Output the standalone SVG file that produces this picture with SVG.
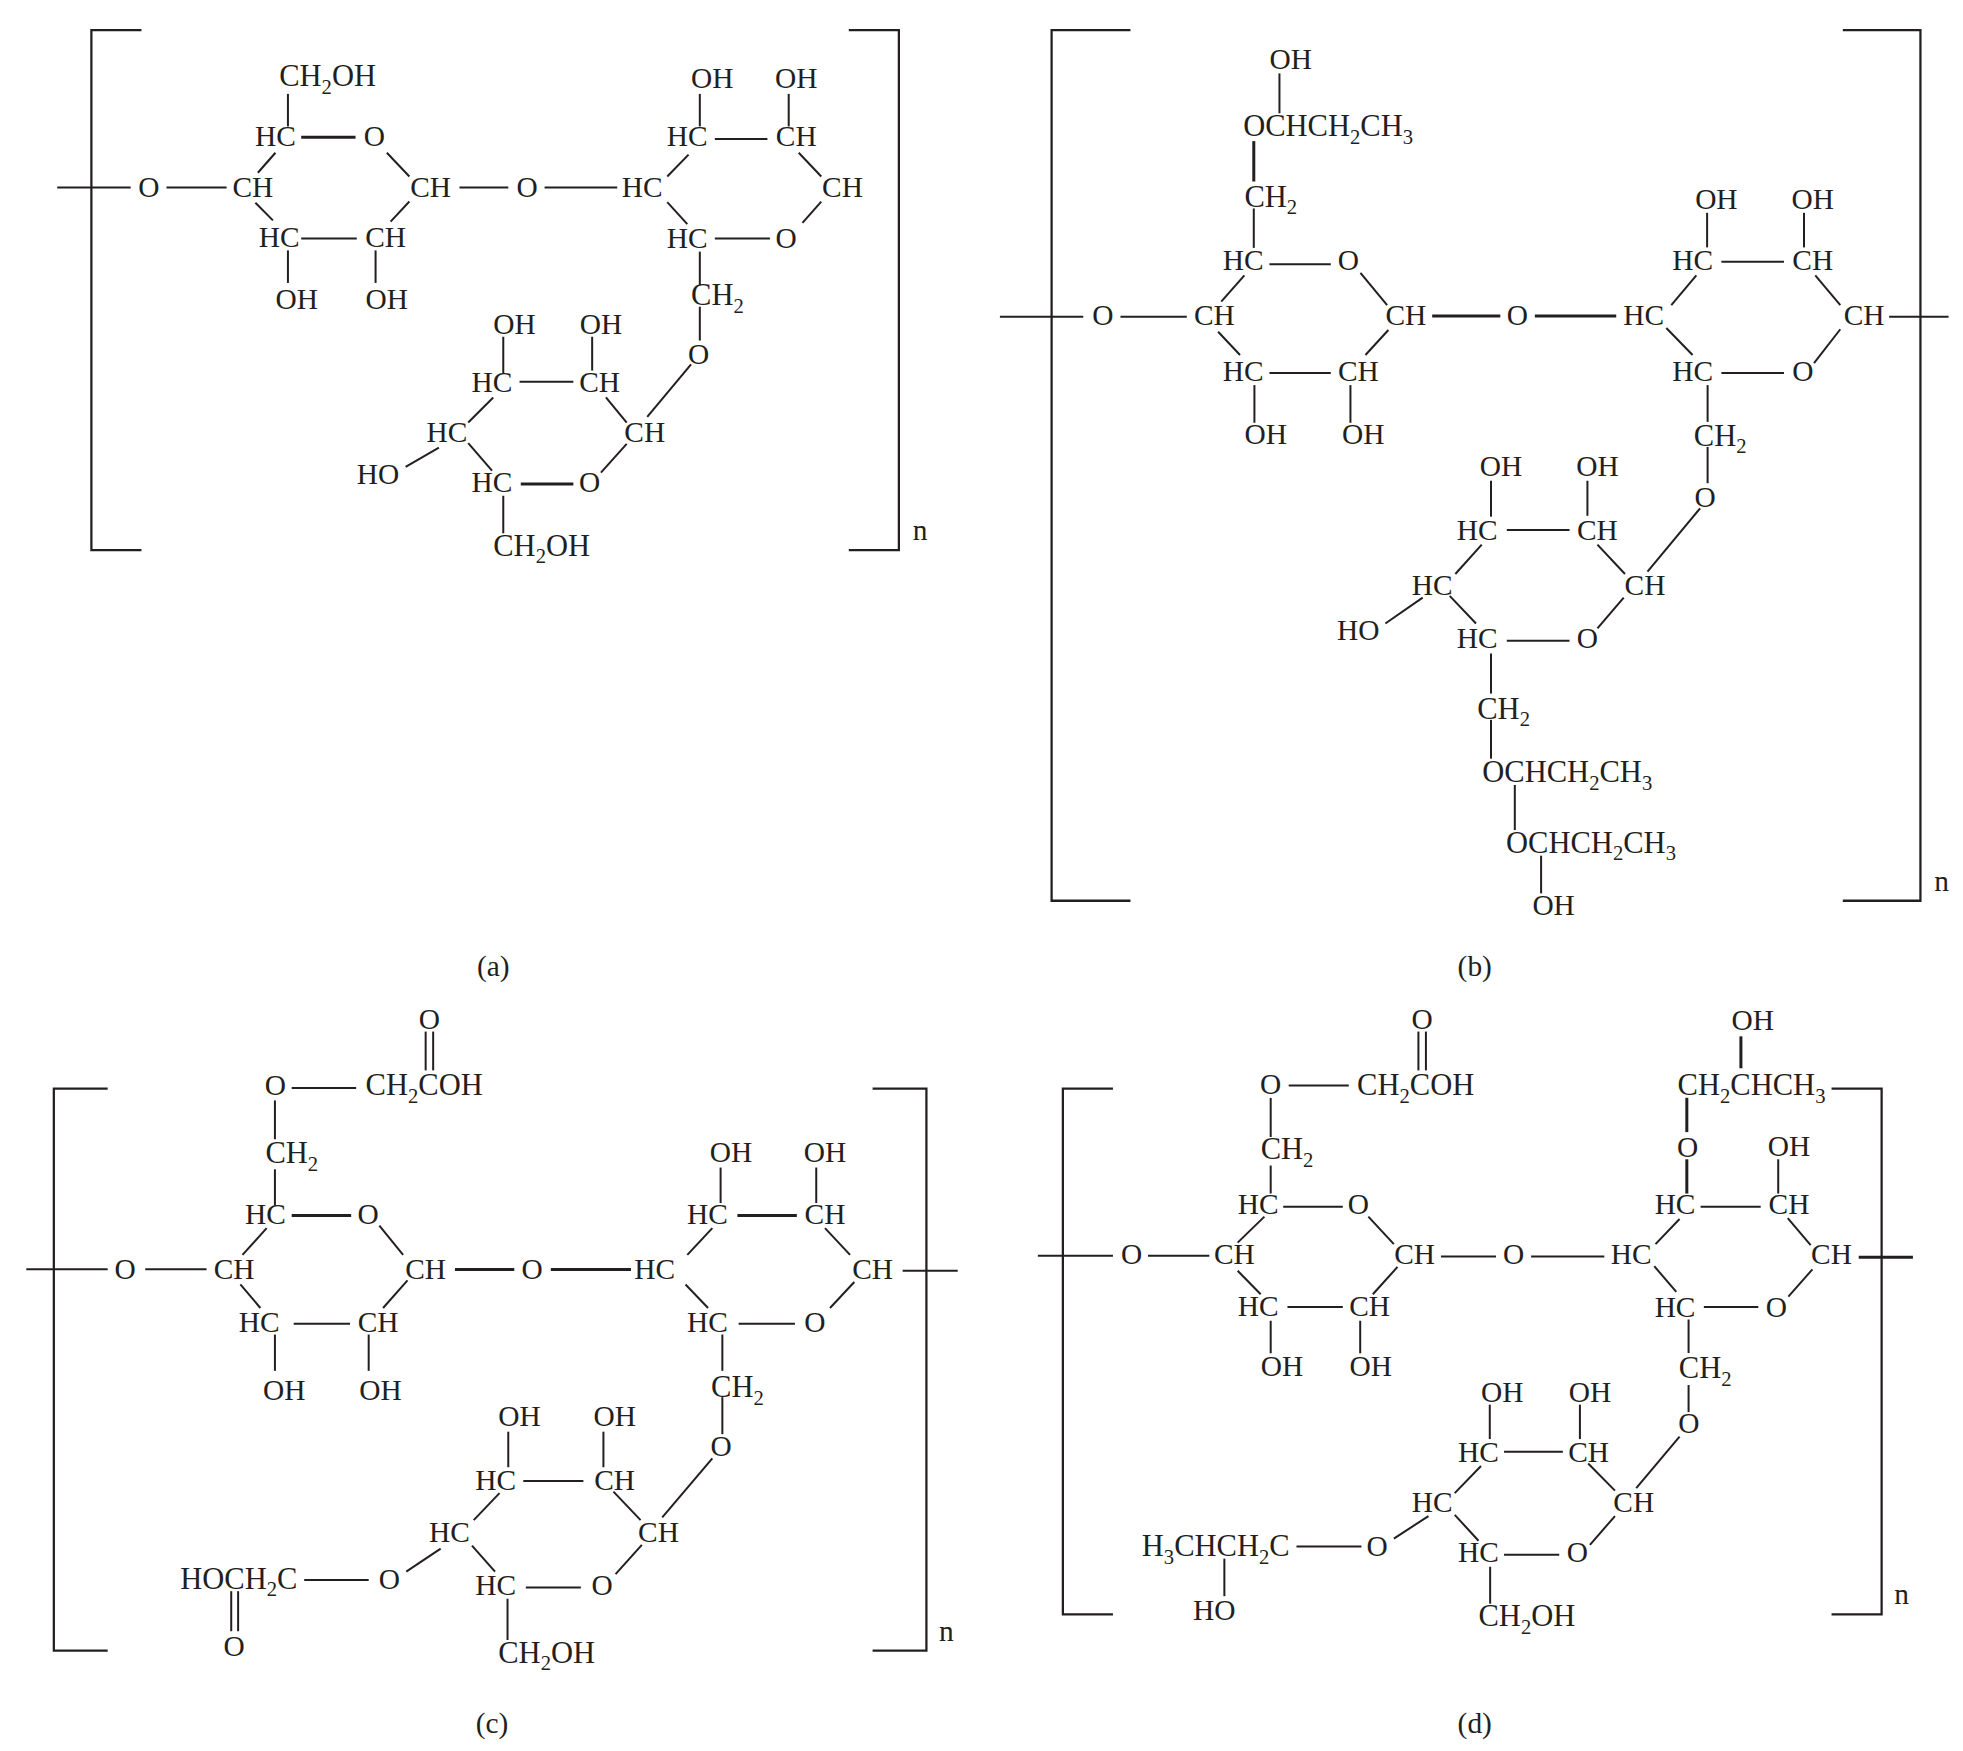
<svg xmlns="http://www.w3.org/2000/svg" width="1963" height="1751" viewBox="0 0 1963 1751">
<style>
text{font-family:"Liberation Serif","Times New Roman",serif;font-size:23.5px;fill:#231f20;text-anchor:middle}
text.f{text-anchor:start;font-size:24.4px}
.s{font-size:16.5px}
path{fill:none;stroke:#231f20;stroke-width:1.6}
path.t{stroke-width:2.4}
.br path{stroke-width:1.8}
</style>
<rect width="1963" height="1751" fill="#fff"/>
<g transform="scale(1.25191)">
<g id="connectors">
<g id="brackets" class="br">
<path d="M113 24H73V439.5H113"/><path d="M678 24H718V439.5H678"/>
<path d="M903 24H840V719.5H903"/><path d="M1472 24H1534V719.5H1472"/>
<path d="M86 869.5H43V1318.5H86"/><path d="M697 869.5H740V1318.5H697"/>
<path d="M889 869.5H849V1289.5H889"/><path d="M1463 869.5H1503V1289.5H1463"/>
</g>
<g id="bonds-a">
<path d="M45.7 149.8H104.4"/><path d="M133 149.8H181"/><path d="M230 75V101"/>
<path class="t" d="M240.6 109.6H284"/><path d="M220 122L206 138"/><path d="M309 122L327 141"/>
<path d="M204 162L218 176"/><path d="M327 161L312 177"/><path d="M240.6 190.6H285"/>
<path d="M230 200V226"/><path d="M300 200V226"/><path d="M367 149.8H406"/><path d="M435 149.8H493"/>
<path d="M533 141L550 123.5"/><path d="M571 111H613"/><path d="M559 75V101"/><path d="M630 75V101"/>
<path d="M638 122L656 141"/><path d="M656 161L641 178"/><path d="M533 161.5L549 179"/>
<path d="M571 190.6H615"/><path d="M559 201V228"/><path d="M559 245V272"/><path d="M552 291L517 333"/>
<path d="M402 269V298"/><path d="M473 269V296"/><path d="M415 305H458"/>
<path d="M394 317.5L374 337.5"/><path d="M484 317.5L500.6 337.5"/><path d="M500.6 354.6L480 377.5"/>
<path d="M374 354L393 376"/><path class="t" d="M416 386.6H458"/><path d="M350.6 357.5L324 373"/><path d="M402 396V426"/>
</g>
<g id="bonds-b">
<path d="M1022 58.6V90.5"/><path class="t" d="M1001.5 112.7V145"/><path d="M1001.5 166.5V198"/>
<path d="M1014 211H1063"/><path d="M798.7 253H865.3"/><path d="M895 253H948"/>
<path d="M994 220L975.5 241"/><path d="M1086.7 218L1108 243.7"/><path d="M973 265L990.5 283.6"/>
<path d="M1109 263.6L1090.7 283.6"/><path d="M1014 298H1063"/><path d="M1002 307.6V337.7"/><path d="M1078.7 307.6V337.7"/>
<path class="t" d="M1144 252.5H1198.4"/><path class="t" d="M1226 252.5H1291"/><path d="M1335 243.7L1355 220"/>
<path d="M1375 209H1425"/><path d="M1363.6 170V197.6"/><path d="M1441 170V197.6"/>
<path d="M1450 220L1470 243.7"/><path d="M1470 263L1449 290"/><path d="M1331 262L1352 283.6"/>
<path d="M1375 298H1425"/><path d="M1364 307.6V337"/><path d="M1364 357V386"/><path d="M1509 253H1556.5"/>
<path d="M1358 406L1316 456.6"/><path d="M1276 435L1298 458.5"/><path d="M1297 477.4L1276 502"/>
<path d="M1183.6 435L1162.5 458.5"/><path d="M1158 476L1179 498"/><path d="M1136.4 477.4L1106.6 498"/>
<path d="M1203.6 423.4H1253.7"/><path d="M1203.6 511.8H1253.7"/><path d="M1191 522V554"/><path d="M1191 575V606"/>
<path d="M1210 627V663"/><path d="M1231 683.5V713.6"/><path d="M1191 384V412.7"/><path d="M1268 384V412"/>
</g>
<g id="bonds-c">
<path d="M340 824V855"/><path d="M346 824V855"/><path d="M233 869H284.5"/><path d="M219.6 879V910"/><path d="M219.6 934V963"/>
<path class="t" d="M233 971H280.5"/><path d="M21 1013.8H86"/><path d="M116 1013.8H165"/>
<path d="M213 981L193.7 1002.4"/><path d="M303 979L322 1002.4"/><path d="M192 1026L208 1044.8"/>
<path d="M325.5 1022.8L306 1044.8"/><path d="M234.6 1057.3H279.6"/><path d="M219.6 1066V1095"/><path d="M294.5 1066V1095"/>
<path class="t" d="M363.4 1014H410.8"/><path class="t" d="M440 1014H504"/><path d="M549 1002.4L569 981"/>
<path class="t" d="M589 971H636.5"/><path d="M575.6 932.6V961"/><path d="M652 932.6V961"/>
<path d="M659 981L679 1002.4"/><path d="M682.4 1024L663 1044.8"/><path d="M547.6 1026L565.6 1044.8"/>
<path d="M590 1057.3H635"/><path d="M577 1066V1095"/><path d="M577 1116V1145.6"/><path d="M721 1015H765"/>
<path d="M569 1165L529 1212"/><path d="M406 1143.6V1172"/><path d="M482 1143.6V1172"/><path d="M418 1183H466"/>
<path d="M399 1192.7L378.4 1214.2"/><path d="M490 1191.5L511.7 1214.2"/><path d="M512.7 1234L491.7 1257.4"/>
<path d="M377 1234.6L395.4 1255.4"/><path d="M420 1268H464"/><path d="M352 1237L324.5 1255.4"/>
<path d="M243 1262H294.5"/><path d="M405.4 1277V1310"/><path d="M184.7 1271V1303"/><path d="M190.2 1271V1303"/>
</g>
<g id="bonds-d">
<path d="M1133 824V855"/><path d="M1139 824V855"/><path d="M1029.4 867H1077.4"/><path d="M1015 877V908.2"/><path d="M1015 931V953.4"/>
<path d="M1025 964H1072.6"/><path d="M829 1003H889"/><path d="M917 1003H966"/>
<path d="M1010 971.8L988.6 992.6"/><path d="M1093 971.8L1113.4 993.8"/><path d="M988.6 1015L1007 1033.8"/>
<path d="M1116.3 1012L1096.6 1033.8"/><path d="M1028.4 1044H1072.6"/><path d="M1015 1055V1081"/><path d="M1086.5 1055V1081"/>
<path d="M1151 1003.6H1195"/><path d="M1223 1003.6H1281.5"/><path d="M1322.4 993.8L1341.6 973.7"/>
<path d="M1358.4 964H1406.4"/><path class="t" d="M1347.4 876.9V904.3"/><path class="t" d="M1347.4 926V953.4"/>
<path class="t" d="M1390.6 827.8V853.3"/><path d="M1420.4 926V953.4"/><path d="M1428 973L1446.3 994.5"/>
<path d="M1447.7 1014L1428.5 1035.7"/><path d="M1321.4 1011.4L1339 1032"/><path d="M1361 1044H1404.5"/>
<path d="M1348.8 1054V1080.8"/><path d="M1348.8 1106.3V1128"/><path class="t" d="M1484.7 1004.3H1528"/>
<path d="M1341.6 1147.5L1307 1188.7"/><path d="M1190 1122V1149.5"/><path d="M1262 1122V1149.5"/><path d="M1201.4 1159.7H1248.4"/>
<path d="M1183 1171L1162 1192.7"/><path d="M1268.6 1169L1290 1190.7"/><path d="M1290 1211L1270 1234"/>
<path d="M1162 1210L1181 1230.7"/><path d="M1201.4 1242H1245.5"/><path d="M1141 1211L1113.4 1229"/>
<path d="M1035.6 1235.4H1087.5"/><path d="M978 1245V1275"/><path d="M1190.3 1251.5V1281"/>
</g>
</g>

<g id="panel-a">
<g id="a1"><text class="f" x="223" y="69">CH<tspan class="s" dy="6">2</tspan><tspan dy="-6">OH</tspan></text></g>
<g id="a2"><text x="220" y="117">HC</text></g>
<g id="a3"><text x="299" y="117">O</text></g>
<g id="a4"><text x="202" y="157">CH</text></g>
<g id="a5"><text x="344" y="157">CH</text></g>
<g id="a6"><text x="119" y="157">O</text></g>
<g id="a7"><text x="223" y="197">HC</text></g>
<g id="a8"><text x="308" y="197">CH</text></g>
<g id="a9"><text x="237" y="247">OH</text></g>
<g id="a10"><text x="309" y="247">OH</text></g>
<g id="a11"><text x="421" y="157">O</text></g>
<g id="a12"><text x="513" y="157">HC</text></g>
<g id="a13"><text x="549" y="117">HC</text></g>
<g id="a14"><text x="636" y="117">CH</text></g>
<g id="a15"><text x="569" y="70">OH</text></g>
<g id="a16"><text x="636" y="70">OH</text></g>
<g id="a17"><text x="673" y="157">CH</text></g>
<g id="a18"><text x="549" y="198">HC</text></g>
<g id="a19"><text x="628" y="198">O</text></g>
<g id="a20"><text class="f" x="552" y="244">CH<tspan class="s" dy="6">2</tspan></text></g>
<g id="a21"><text x="558" y="291">O</text></g>
<g id="a22"><text x="411" y="267">OH</text></g>
<g id="a23"><text x="480" y="267">OH</text></g>
<g id="a24"><text x="393" y="313">HC</text></g>
<g id="a25"><text x="479" y="313">CH</text></g>
<g id="a26"><text x="357" y="353">HC</text></g>
<g id="a27"><text x="515" y="353">CH</text></g>
<g id="a28"><text x="302" y="387">HO</text></g>
<g id="a29"><text x="393" y="393">HC</text></g>
<g id="a30"><text x="471" y="393">O</text></g>
<g id="a31"><text class="f" x="394" y="444">CH<tspan class="s" dy="6">2</tspan><tspan dy="-6">OH</tspan></text></g>
<g id="a-n"><text x="735" y="431">n</text></g>
<g id="a-cap"><text x="394" y="780">(a)</text></g>
</g>

<g id="panel-b">
<g id="b1"><text x="1031" y="55">OH</text></g>
<g id="b2"><text class="f" x="993" y="109">OCHCH<tspan class="s" dy="6">2</tspan><tspan dy="-6">CH</tspan><tspan class="s" dy="6">3</tspan></text></g>
<g id="b3"><text class="f" x="994" y="165">CH<tspan class="s" dy="6">2</tspan></text></g>
<g id="b4"><text x="993" y="216">HC</text></g>
<g id="b5"><text x="1077" y="216">O</text></g>
<g id="b6"><text x="970" y="260">CH</text></g>
<g id="b7"><text x="881" y="260">O</text></g>
<g id="b8"><text x="1123" y="260">CH</text></g>
<g id="b9"><text x="993" y="304">HC</text></g>
<g id="b10"><text x="1085" y="304">CH</text></g>
<g id="b11"><text x="1011" y="355">OH</text></g>
<g id="b12"><text x="1089" y="355">OH</text></g>
<g id="b13"><text x="1212" y="260">O</text></g>
<g id="b14"><text x="1313" y="260">HC</text></g>
<g id="b15"><text x="1352" y="216">HC</text></g>
<g id="b16"><text x="1448" y="216">CH</text></g>
<g id="b17"><text x="1371" y="167">OH</text></g>
<g id="b18"><text x="1448" y="167">OH</text></g>
<g id="b19"><text x="1489" y="260">CH</text></g>
<g id="b20"><text x="1352" y="304">HC</text></g>
<g id="b21"><text x="1440" y="304">O</text></g>
<g id="b22"><text class="f" x="1353" y="356">CH<tspan class="s" dy="6">2</tspan></text></g>
<g id="b23"><text x="1362" y="405">O</text></g>
<g id="b24"><text x="1199" y="380">OH</text></g>
<g id="b25"><text x="1276" y="380">OH</text></g>
<g id="b26"><text x="1180" y="431">HC</text></g>
<g id="b27"><text x="1276" y="431">CH</text></g>
<g id="b28"><text x="1144" y="475">HC</text></g>
<g id="b29"><text x="1314" y="475">CH</text></g>
<g id="b30"><text x="1085" y="511">HO</text></g>
<g id="b31"><text x="1180" y="518">HC</text></g>
<g id="b32"><text x="1268" y="518">O</text></g>
<g id="b33"><text class="f" x="1180" y="574">CH<tspan class="s" dy="6">2</tspan></text></g>
<g id="b34"><text class="f" x="1184" y="625">OCHCH<tspan class="s" dy="6">2</tspan><tspan dy="-6">CH</tspan><tspan class="s" dy="6">3</tspan></text></g>
<g id="b35"><text class="f" x="1203" y="681">OCHCH<tspan class="s" dy="6">2</tspan><tspan dy="-6">CH</tspan><tspan class="s" dy="6">3</tspan></text></g>
<g id="b36"><text x="1241" y="731">OH</text></g>
<g id="b-n"><text x="1551" y="712">n</text></g>
<g id="b-cap"><text x="1178" y="780">(b)</text></g>
</g>

<g id="panel-c">
<g id="c1"><text x="343" y="822">O</text></g>
<g id="c2"><text x="220" y="875">O</text></g>
<g id="c3"><text class="f" x="292" y="875">CH<tspan class="s" dy="6">2</tspan><tspan dy="-6">COH</tspan></text></g>
<g id="c4"><text class="f" x="212" y="929">CH<tspan class="s" dy="6">2</tspan></text></g>
<g id="c5"><text x="212" y="978">HC</text></g>
<g id="c6"><text x="294" y="978">O</text></g>
<g id="c7"><text x="187" y="1022">CH</text></g>
<g id="c8"><text x="100" y="1022">O</text></g>
<g id="c9"><text x="340" y="1022">CH</text></g>
<g id="c10"><text x="207" y="1064">HC</text></g>
<g id="c11"><text x="302" y="1064">CH</text></g>
<g id="c12"><text x="227" y="1118">OH</text></g>
<g id="c13"><text x="304" y="1118">OH</text></g>
<g id="c14"><text x="425" y="1022">O</text></g>
<g id="c15"><text x="523" y="1022">HC</text></g>
<g id="c16"><text x="565" y="978">HC</text></g>
<g id="c17"><text x="659" y="978">CH</text></g>
<g id="c18"><text x="584" y="928">OH</text></g>
<g id="c19"><text x="659" y="928">OH</text></g>
<g id="c20"><text x="697" y="1022">CH</text></g>
<g id="c21"><text x="565" y="1064">HC</text></g>
<g id="c22"><text x="651" y="1064">O</text></g>
<g id="c23"><text class="f" x="568" y="1116">CH<tspan class="s" dy="6">2</tspan></text></g>
<g id="c24"><text x="576" y="1163">O</text></g>
<g id="c25"><text x="415" y="1139">OH</text></g>
<g id="c26"><text x="491" y="1139">OH</text></g>
<g id="c27"><text x="396" y="1190">HC</text></g>
<g id="c28"><text x="491" y="1190">CH</text></g>
<g id="c29"><text x="359" y="1232">HC</text></g>
<g id="c30"><text x="526" y="1232">CH</text></g>
<g id="c31"><text x="311" y="1269">O</text></g>
<g id="c32"><text class="f" x="144" y="1269">HOCH<tspan class="s" dy="6">2</tspan><tspan dy="-6">C</tspan></text></g>
<g id="c33"><text x="396" y="1274">HC</text></g>
<g id="c34"><text x="481" y="1274">O</text></g>
<g id="c35"><text class="f" x="398" y="1328">CH<tspan class="s" dy="6">2</tspan><tspan dy="-6">OH</tspan></text></g>
<g id="c36"><text x="187" y="1323">O</text></g>
<g id="c-n"><text x="756" y="1311">n</text></g>
<g id="c-cap"><text x="393" y="1384">(c)</text></g>
</g>

<g id="panel-d">
<g id="d1"><text x="1136" y="822">O</text></g>
<g id="d2"><text x="1015" y="874">O</text></g>
<g id="d3"><text class="f" x="1084" y="875">CH<tspan class="s" dy="6">2</tspan><tspan dy="-6">COH</tspan></text></g>
<g id="d4"><text x="1400" y="823">OH</text></g>
<g id="d5"><text class="f" x="1340" y="875">CH<tspan class="s" dy="6">2</tspan><tspan dy="-6">CHCH</tspan><tspan class="s" dy="6">3</tspan></text></g>
<g id="d6"><text class="f" x="1007" y="926">CH<tspan class="s" dy="6">2</tspan></text></g>
<g id="d7"><text x="1348" y="924">O</text></g>
<g id="d8"><text x="1429" y="923">OH</text></g>
<g id="d9"><text x="1005" y="970">HC</text></g>
<g id="d10"><text x="1085" y="970">O</text></g>
<g id="d11"><text x="1338" y="970">HC</text></g>
<g id="d12"><text x="1429" y="970">CH</text></g>
<g id="d13"><text x="986" y="1010">CH</text></g>
<g id="d14"><text x="904" y="1010">O</text></g>
<g id="d15"><text x="1130" y="1010">CH</text></g>
<g id="d16"><text x="1209" y="1010">O</text></g>
<g id="d17"><text x="1303" y="1010">HC</text></g>
<g id="d18"><text x="1463" y="1010">CH</text></g>
<g id="d19"><text x="1005" y="1051">HC</text></g>
<g id="d20"><text x="1094" y="1051">CH</text></g>
<g id="d21"><text x="1338" y="1052">HC</text></g>
<g id="d22"><text x="1419" y="1052">O</text></g>
<g id="d23"><text x="1024" y="1099">OH</text></g>
<g id="d24"><text x="1095" y="1099">OH</text></g>
<g id="d25"><text class="f" x="1341" y="1101">CH<tspan class="s" dy="6">2</tspan></text></g>
<g id="d26"><text x="1349" y="1145">O</text></g>
<g id="d27"><text x="1200" y="1120">OH</text></g>
<g id="d28"><text x="1270" y="1120">OH</text></g>
<g id="d29"><text x="1181" y="1168">HC</text></g>
<g id="d30"><text x="1269" y="1168">CH</text></g>
<g id="d31"><text x="1144" y="1208">HC</text></g>
<g id="d32"><text x="1305" y="1208">CH</text></g>
<g id="d33"><text class="f" x="912" y="1243">H<tspan class="s" dy="6">3</tspan><tspan dy="-6">CHCH</tspan><tspan class="s" dy="6">2</tspan><tspan dy="-6">C</tspan></text></g>
<g id="d34"><text x="1100" y="1243">O</text></g>
<g id="d35"><text x="1181" y="1248">HC</text></g>
<g id="d36"><text x="1260" y="1248">O</text></g>
<g id="d37"><text x="970" y="1294">HO</text></g>
<g id="d38"><text class="f" x="1181" y="1299">CH<tspan class="s" dy="6">2</tspan><tspan dy="-6">OH</tspan></text></g>
<g id="d-n"><text x="1519" y="1281">n</text></g>
<g id="d-cap"><text x="1178" y="1384">(d)</text></g>
</g>
</g>
</svg>
